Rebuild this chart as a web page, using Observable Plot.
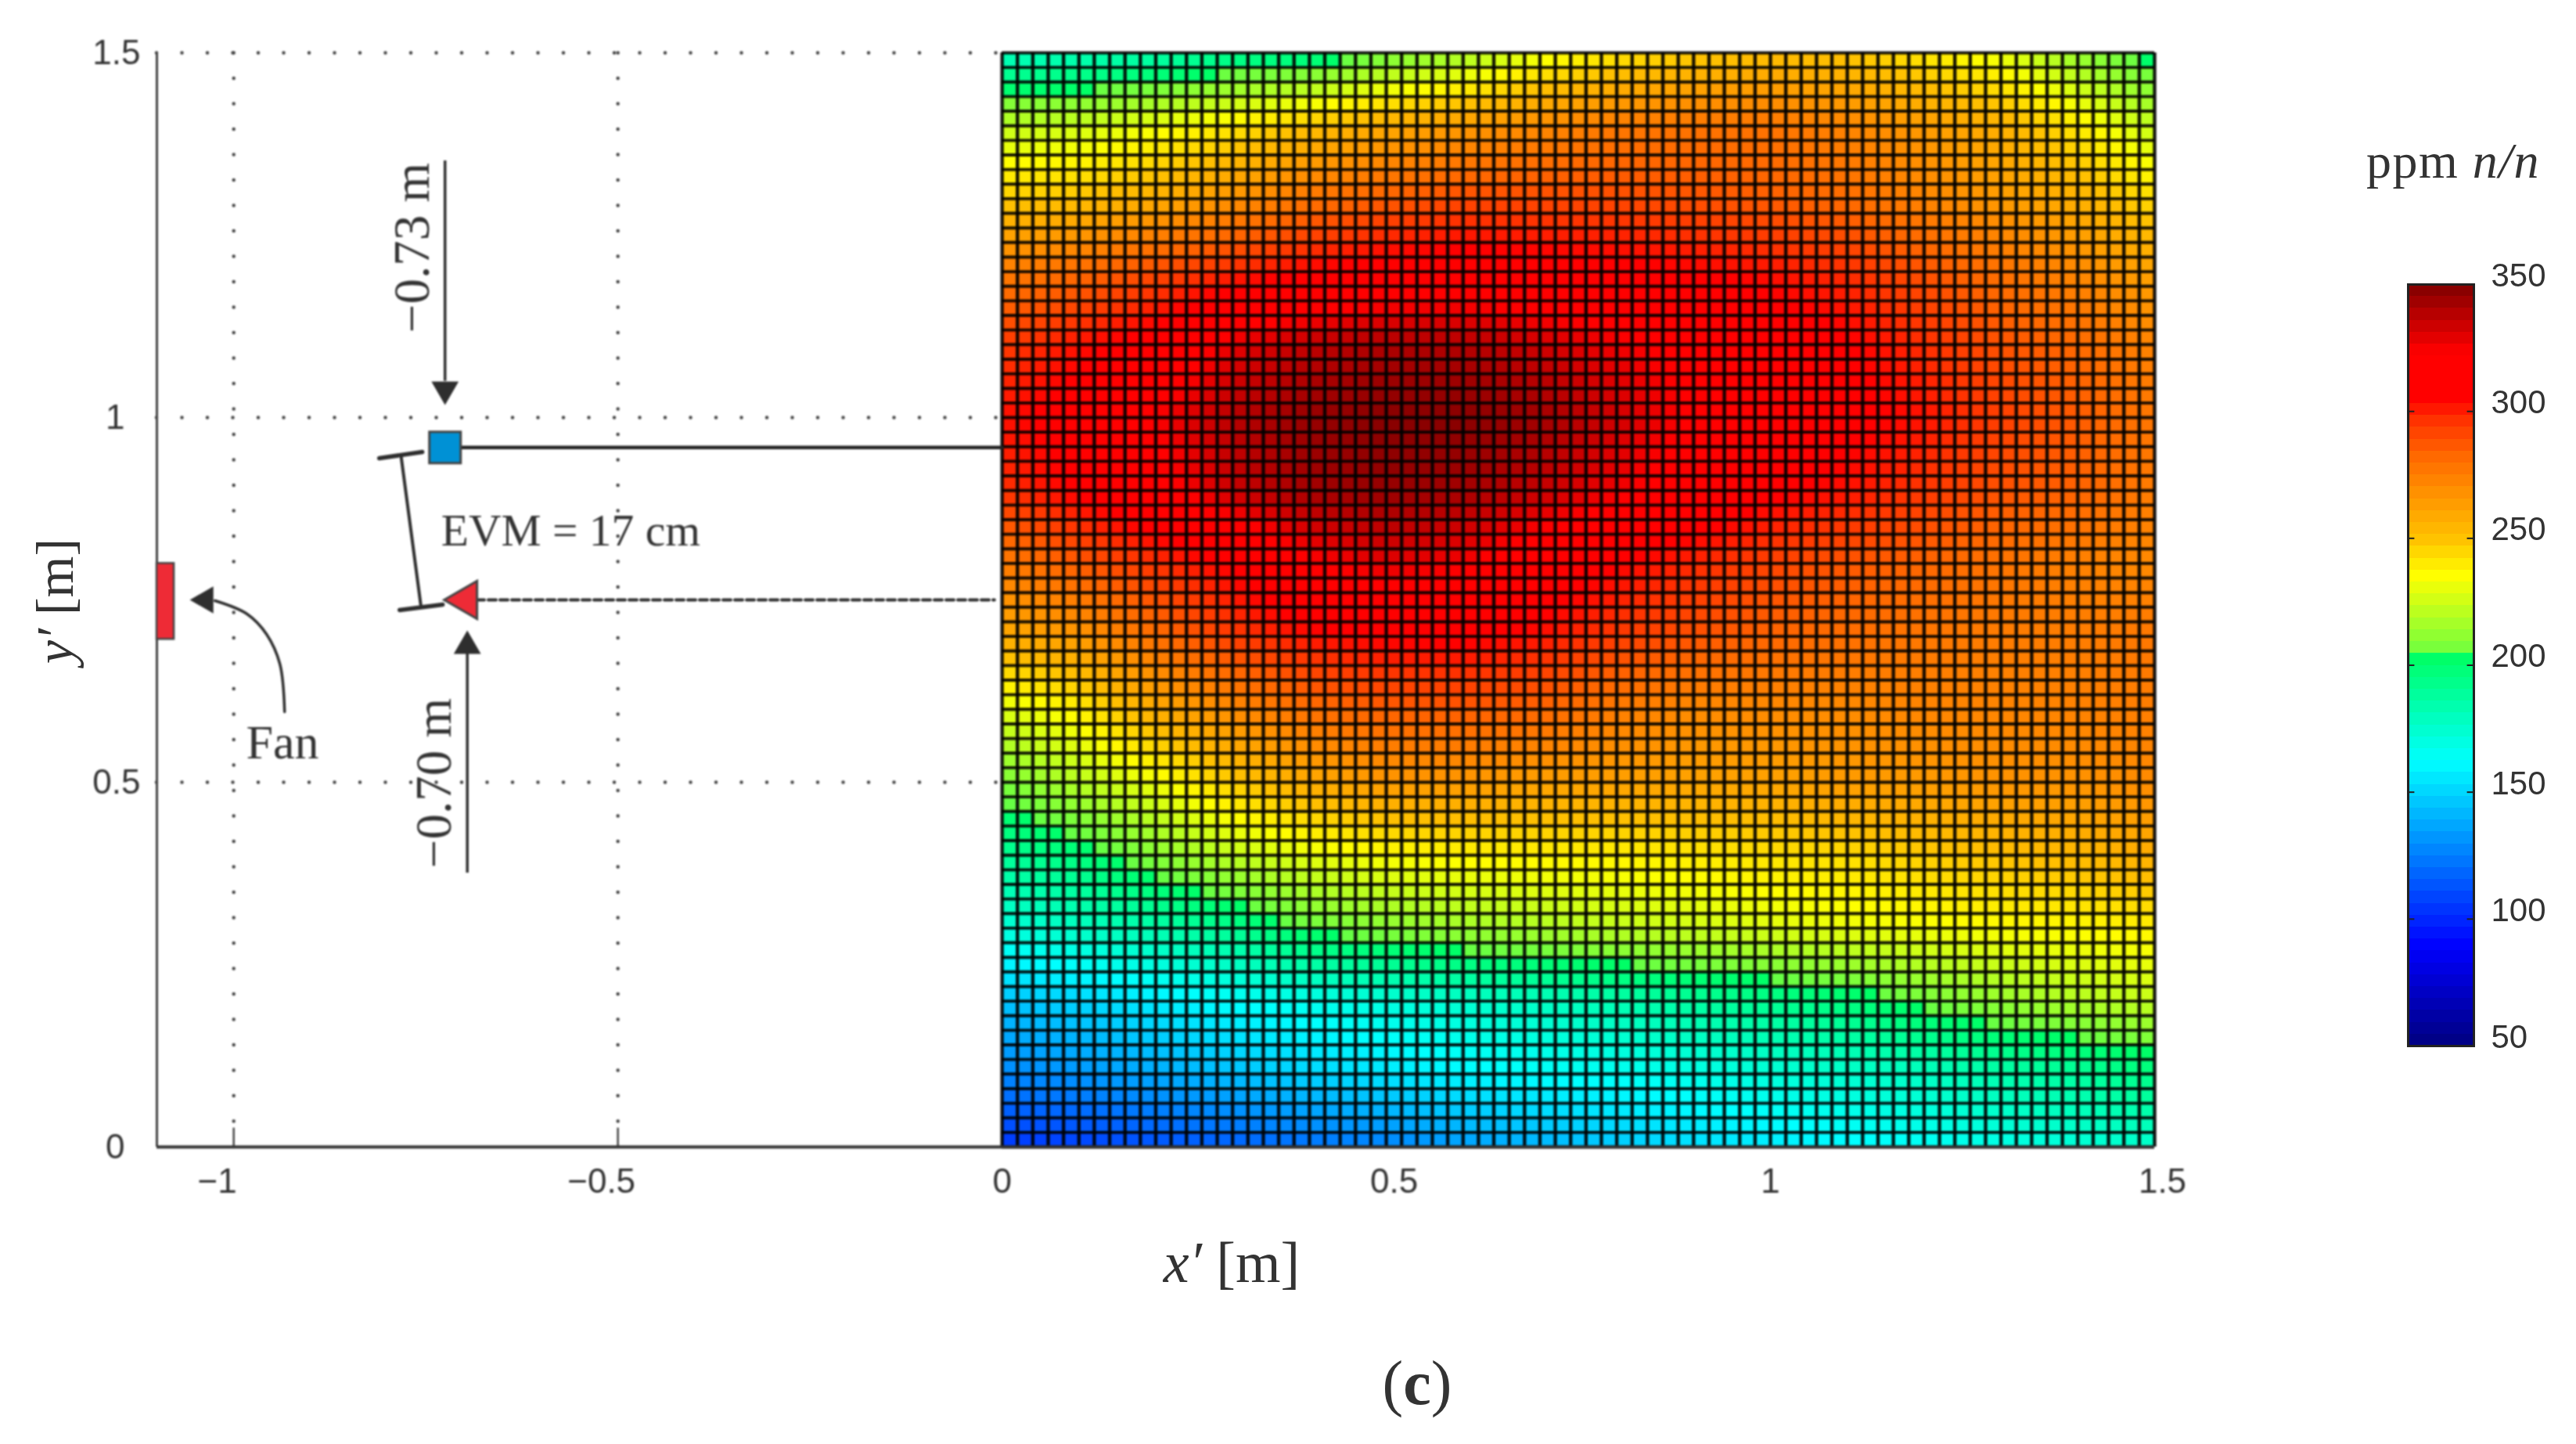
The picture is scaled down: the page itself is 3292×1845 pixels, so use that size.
<!DOCTYPE html>
<html>
<head>
<meta charset="utf-8">
<script src="https://cdn.jsdelivr.net/npm/d3@7"></script>
<script src="https://cdn.jsdelivr.net/npm/@observablehq/plot@0.6"></script>
<style>
html,body{margin:0;padding:0;background:#fff;width:3292px;height:1845px;overflow:hidden}
#page{position:relative;width:3292px;height:1845px}
#page svg{position:absolute;background:transparent}
.lab{position:absolute;transform:translate(-50%,-50%);font-family:"Liberation Serif",serif;color:#333;white-space:nowrap}
</style>
</head>
<body>
<div id="page"></div>
<script>
// Readings (ppm n/n) every 0.1 m; the 0.02 m cells between
// these readings are blended from them for display and were not read individually.
const sampleX = [0,0.1,0.2,0.3,0.4,0.5,0.6,0.7,0.8,0.9,1.0,1.1,1.2,1.3,1.4,1.5];
const row150 = [178,180,183,190,192,205,215,230,240,246,250,248,240,230,212,198];
const row140 = [222,225,232,240,250,258,264,270,276,278,278,272,264,256,240,222];
const row130 = [247,250,257,267,278,285,290,290,290,288,285,281,272,264,256,243];
const row120 = [275,281,290,298,305,310,312,310,308,305,302,297,288,279,271,261];
const row110 = [294,302,310,328,336,340,339,333,326,320,312,306,297,288,282,272];
const row100 = [302,310,324,338,345,348,348,343,333,322,314,308,302,293,286,277];
const row090 = [296,306,318,334,342,345,342,335,326,316,307,302,295,288,284,275];
const row080 = [275,286,296,306,322,329,325,314,305,298,292,287,283,278,273,270];
const row070 = [258,265,280,294,302,306,307,302,294,288,283,280,277,275,275,277];
const row060 = [228,238,258,270,280,285,286,283,275,270,270,270,272,272,273,275];
const row050 = [207,220,232,247,258,265,265,262,262,261,261,264,264,267,267,270];
const row040 = [190,197,210,222,230,235,237,238,238,240,242,243,247,250,253,257];
const row030 = [172,178,184,192,204,210,215,218,222,225,228,231,233,235,236,238];
const row020 = [145,150,157,163,167,171,175,178,183,188,192,197,206,213,219,223];
const row010 = [128,132,138,144,150,155,160,163,165,168,172,175,178,184,188,195];
const row000 = [104,107,112,116,121,126,134,140,146,152,156,160,164,168,172,175];
const rowsFromBottom = [row000,row010,row020,row030,row040,row050,row060,row070,row080,row090,row100,row110,row120,row130,row140,row150];

// Colour bar
const colorStops = [50,89,162,203,203.01,235,250,265,283,296,305,323,350];
const colorHex = ["#00007f","#0000ff","#00ffff","#00ff66","#66ff44","#ffff00","#ffc000","#ff9900","#ff6600","#ff3300","#ff0000","#ff0000","#7f0000"];
const barTicks = [350,300,250,200,150,100,50];
const barInnerTicks = [300,250,200,150,100];

// Axis ticks
const xTicksMinus = [-1,-0.5], xTicksMinusText = ["−1","−0.5"];
const xTicksWhole = [0,1], xTicksFrac = [0.5,1.5];
const yTicksWhole = [0,1], yTicksFrac = [0.5,1.5];

// Annotations
const blueSensor = {x:[-0.725], y:[0.959]};
const redSource = {x:[-0.6976], y:[0.75]};
const solidLineX = [-0.725,0], solidLineY = [0.959,0.959];
const dashLineX = [-0.684,-0.01], dashLineY = [0.75,0.75];
const bracketTopX = [-0.8106,-0.7546], bracketTopY = [0.9442,0.9528];
const bracketLowX = [-0.7841,-0.7281], bracketLowY = [0.7361,0.7436];
const bracketMidX = [-0.7821,-0.7566], bracketMidY = [0.9464,0.7436];
const fanCurveX = [-0.9338,-0.9399,-0.9572,-0.9827,-1.0244], fanCurveY = [0.5966,0.662,0.7028,0.7307,0.7489];

// Cell colour at (x, y): blend of the four surrounding readings.
const cellValue = (x,y) => {
  const fx = Math.min(x*10,14.999), fy = Math.min(y*10,14.999);
  const i = Math.floor(fx), j = Math.floor(fy), u = fx-i, w = fy-j;
  const lo = rowsFromBottom[j], hi = rowsFromBottom[j+1];
  return (lo[i]*(1-u)+lo[i+1]*u)*(1-w)+(hi[i]*(1-u)+hi[i+1]*u)*w;
};
const cellEdges = d3.range(76).map(i => i*0.02);
const color = {type:"linear",domain:colorStops,range:colorHex,clamp:true};
const dark = "#2e2e2e";
const sans = "'Liberation Sans',Arial,sans-serif";
const serif = "'Liberation Serif',serif";
const tk = {fontFamily:sans,fontSize:44,fill:"#333"};
const sr = {fontFamily:serif,fontSize:58,fill:"#333"};
const dots = {stroke:"#444",strokeWidth:4.5,strokeDasharray:"0 32.5",strokeLinecap:"round"};
const line = (xs,ys,sw,extra={}) => Plot.line(xs.map((x,i)=>[x,ys[i]]),{x:d=>d[0],y:d=>d[1],stroke:dark,strokeWidth:sw,...extra});

const main = Plot.plot({
  width:3292,height:1845,
  marginTop:67,marginBottom:380,marginLeft:200,marginRight:539,
  x:{domain:[-1.1,1.5],range:[200,2753],axis:null},
  y:{domain:[0,1.5],range:[1465,67],axis:null},
  color,
  style:{background:"transparent",overflow:"visible"},
  marks:[
    Plot.ruleX([-1,-0.5],{y1:0,y2:1.5,...dots}),
    Plot.ruleY([0.5,1,1.5],{x1:-1.1,x2:0,...dots}),
    Plot.raster({fill:cellValue,x1:0,x2:1.5,y1:0,y2:1.5,width:75,height:75,imageRendering:"pixelated"}),
    Plot.ruleX(cellEdges,{y1:0,y2:1.5,stroke:"#000",strokeWidth:4.4,strokeOpacity:0.9}),
    Plot.ruleY(cellEdges,{x1:0,x2:1.5,stroke:"#000",strokeWidth:3.9,strokeOpacity:0.9}),
    Plot.ruleX([-1.1],{y1:0,y2:1.5,stroke:"#444",strokeWidth:3}),
    Plot.ruleY([0],{x1:-1.1,x2:1.5,stroke:"#333",strokeWidth:4}),
    Plot.ruleX([-1,-0.5],{y1:0,y2:0.026,stroke:"#444",strokeWidth:2.5}),
    Plot.text(xTicksMinusText,{x:xTicksMinus,y:0,dy:44,dx:-21,text:d=>d,...tk}),
    Plot.text(xTicksWhole,{x:d=>d,y:0,dy:44,text:d=>String(d),...tk}),
    Plot.text(xTicksFrac,{x:d=>d,y:0,dy:44,dx:10,text:d=>String(d),...tk}),
    Plot.text(yTicksWhole,{x:-1.1,y:d=>d,dx:-41,textAnchor:"end",text:d=>String(d),...tk}),
    Plot.text(yTicksFrac,{x:-1.1,y:d=>d,dx:-21,textAnchor:"end",text:d=>String(d),...tk}),
    // fan
    Plot.rect([0],{x1:-1.1,x2:-1.0775,y1:0.696,y2:0.80,fill:"#ee2b36",stroke:"#444",strokeWidth:2.5}),
    line(fanCurveX,fanCurveY,3.5,{curve:"catmull-rom"}),
    Plot.dot([0],{x:-1.0367,y:0.75,symbol:"triangle",r:12.9,rotate:-90,fill:dark}),
    Plot.text(["Fan"],{x:-0.9365,y:0.5536,text:d=>d,...sr,fontSize:62}),
    // sensor lines
    line(solidLineX,solidLineY,4.5,{stroke:"#222"}),
    line(dashLineX,dashLineY,4,{strokeDasharray:"10 5"}),
    Plot.dot([0],{x:blueSensor.x,y:blueSensor.y,symbol:"square",r:22.6,fill:"#0091d5",stroke:"#444",strokeWidth:3}),
    Plot.dot([0],{x:redSource.x,y:redSource.y,symbol:"triangle",r:18,rotate:-90,fill:"#ee2b36",stroke:"#444",strokeWidth:3}),
    // bracket
    line(bracketTopX,bracketTopY,5.5),
    line(bracketLowX,bracketLowY,5.5),
    line(bracketMidX,bracketMidY,4),
    Plot.text(["EVM = 17 cm"],{x:-0.730,y:0.8444,textAnchor:"start",text:d=>d,...sr,fontSize:57.5}),
    // position arrows
    Plot.ruleX([-0.725],{y1:1.352,y2:1.05,stroke:dark,strokeWidth:3.5}),
    Plot.dot([0],{x:-0.725,y:1.0386,symbol:"triangle",r:12.9,rotate:180,fill:dark}),
    Plot.ruleX([-0.696],{y1:0.3755,y2:0.68,stroke:dark,strokeWidth:3.5}),
    Plot.dot([0],{x:-0.696,y:0.6867,symbol:"triangle",r:12.9,fill:dark}),
    Plot.text(["−0.73 m"],{x:-0.7668,y:1.2328,rotate:-90,text:d=>d,...sr,fontSize:65}),
    Plot.text(["−0.70 m"],{x:-0.7383,y:0.4989,rotate:-90,text:d=>d,...sr,fontSize:65})
  ]
});
main.style.left="0";main.style.top="0";main.style.filter="blur(0.8px)";

const step = 300/64;
const levels = d3.range(64).map(i => 50+i*step);
const bar = Plot.plot({
  width:292,height:1100,
  marginTop:63,marginBottom:64,marginLeft:77,marginRight:131,
  x:{domain:[0,1],axis:null},
  y:{domain:[50,350],axis:null},
  color,
  style:{background:"transparent",overflow:"visible"},
  marks:[
    Plot.rect(levels,{x1:0,x2:1,y1:d=>d,y2:d=>d+step,fill:d=>d+step/2,shapeRendering:"crispEdges"}),
    Plot.ruleY(barInnerTicks,{x1:0,x2:0.1,stroke:"#222",strokeWidth:2}),
    Plot.ruleY(barInnerTicks,{x1:0.9,x2:1,stroke:"#222",strokeWidth:2}),
    Plot.frame({stroke:"#222",strokeWidth:3}),
    Plot.text(barTicks,{x:1,y:d=>d,dx:22,dy:-11,textAnchor:"start",text:d=>String(d),fontFamily:sans,fontSize:42,fill:"#333"})
  ]
});
bar.style.left="3000px";bar.style.top="300px";bar.style.filter="blur(0.7px)";

const page = document.getElementById("page");
page.append(main,bar);
const addLabel = (html,left,top,size,extra="") => {
  const d=document.createElement("div");d.className="lab";
  d.style.cssText=`left:${left}px;top:${top}px;font-size:${size}px;${extra}`;
  d.innerHTML=html;page.append(d);
};
addLabel("<i>x′</i> [m]",1574,1613,74);
addLabel("<i>y′</i> [m]",70,768,68,"transform:translate(-50%,-50%) rotate(-90deg);");
addLabel("ppm <i>n/n</i>",3135,206,64,"letter-spacing:1.5px;");
addLabel("(<b>c</b>)",1811,1767,80);
</script>
</body>
</html>
